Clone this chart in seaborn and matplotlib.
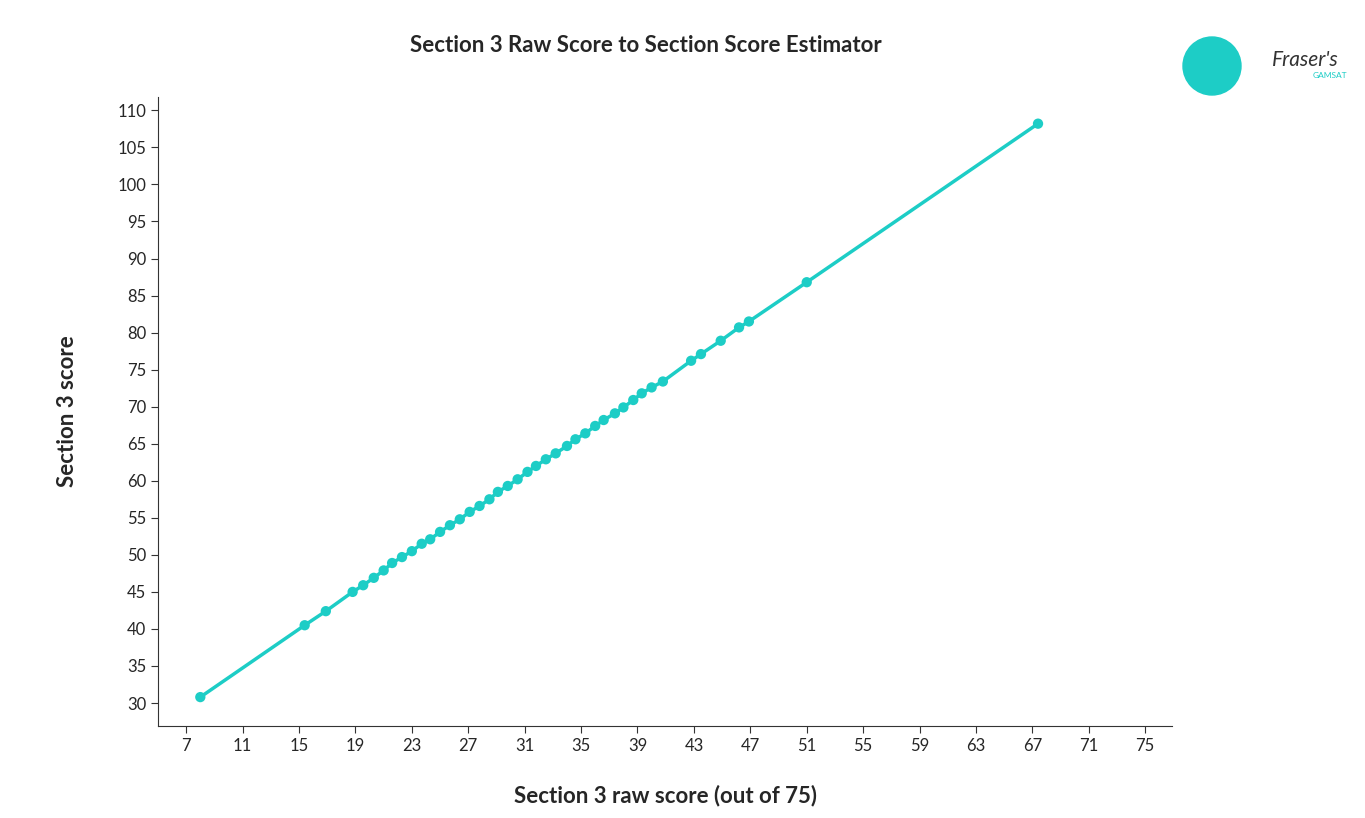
import numpy as np
import pandas as pd
import seaborn as sns
import matplotlib.pyplot as plt
from matplotlib.patches import Ellipse

raw = [8.0, 15.4, 16.9, 18.8, 19.55, 20.3, 21.0, 21.6, 22.3, 23.0, 23.7, 24.3, 25.0,
       25.7, 26.4, 27.1, 27.8, 28.5, 29.1, 29.8, 30.5, 31.2, 31.8, 32.5, 33.2, 34.0,
       34.6, 35.3, 36.0, 36.6, 37.4, 38.0, 38.7, 39.3, 40.0, 40.8, 42.8, 43.5, 44.9,
       46.2, 46.9, 51.0, 67.4]
score = [30.8, 40.5, 42.4, 45.0, 45.9, 46.9, 47.9, 48.9, 49.7, 50.5, 51.5, 52.1, 53.1,
         54.0, 54.8, 55.8, 56.6, 57.5, 58.5, 59.3, 60.2, 61.2, 62.0, 62.9, 63.7, 64.7,
         65.6, 66.4, 67.4, 68.2, 69.1, 69.9, 70.9, 71.8, 72.6, 73.4, 76.2, 77.1, 78.9,
         80.7, 81.5, 86.8, 108.2]
xticks = list(range(7, 76, 4))
yticks = list(range(30, 111, 5))

df = pd.DataFrame({'raw': raw, 'score': score})
teal = '#1dcdc6'

sns.set_style('white')
plt.rcParams['font.family'] = ['Lato', 'DejaVu Sans']

fig = plt.figure(figsize=(13.65, 8.18), dpi=100)
ax = fig.add_axes([158/1365, 1-726/818, (1172-158)/1365, (726-97)/818])
sns.lineplot(data=df, x='raw', y='score', color=teal, linewidth=2.5, ax=ax)
sns.scatterplot(data=df, x='raw', y='score', color=teal, s=55, edgecolor='none', ax=ax, zorder=3)

ax.set_xlim(5.0, 76.9)
ax.set_ylim(26.9, 111.8)
ax.set_xticks(xticks)
ax.set_yticks(yticks)
ax.tick_params(axis='both', labelsize=12, length=5, color='#333333', direction='out',
               bottom=True, left=True)
for s in ['top', 'right']:
    ax.spines[s].set_visible(False)
for s in ['left', 'bottom']:
    ax.spines[s].set_color('#333333')
ax.set_xlabel('Section 3 raw score (out of 75)', fontsize=16, fontweight='bold', labelpad=22)
ax.set_ylabel('Section 3 score', fontsize=16, fontweight='bold', labelpad=28)
fig.text(646/1365, 1-46/818, 'Section 3 Raw Score to Section Score Estimator',
         ha='center', va='center', fontsize=16, fontweight='bold')

# logo
fig.patches.append(Ellipse((1212/1365, 1-66/818), 58/1365, 58/818, transform=fig.transFigure,
                           color=teal, zorder=5))
fig.text(1305/1365, 1-60/818, 'Fraser\'s', ha='center', va='center', fontsize=15,
         style='italic', color='#333333')
fig.text(1330/1365, 1-76/818, 'GAMSAT', ha='center', va='center', fontsize=6, color=teal)

fig.savefig('out.png', dpi=100)
